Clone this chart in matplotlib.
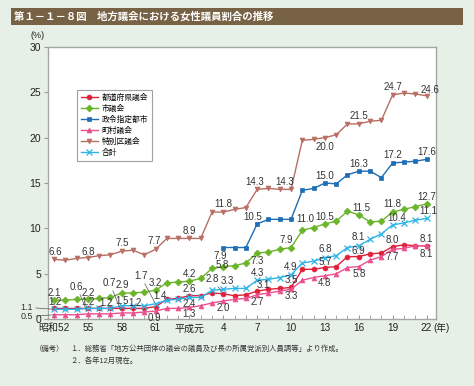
import matplotlib
matplotlib.use('Agg')
import matplotlib.pyplot as plt
import matplotlib.patches as patches

plt.rcParams['font.family'] = ['Liberation Sans', 'Noto Sans CJK JP']

# data (1977 = 昭和52 ... 2010 = 平成22)
years = list(range(1977, 2011))
tick_years = [1977, 1980, 1983, 1986, 1989, 1992, 1995, 1998, 2001, 2004, 2007, 2010]
tick_labels = ['昭和52', '55', '58', '61', '平成元', '4', '7', '10', '13', '16', '19', '22']

pref = [1.2, 1.2, 1.2, 1.2, 1.2, 1.2, 1.2, 1.2, 1.2, 1.4,
        2.2, 2.3, 2.6, 2.6, 2.9, 2.8, 2.6, 2.7, 3.1, 3.3,
        3.4, 3.5, 5.5, 5.5, 5.7, 5.8, 6.9, 6.9, 7.2, 7.3,
        8.0, 8.2, 8.1, 8.1]
city = [2.1, 2.1, 2.2, 2.2, 2.3, 2.4, 2.9, 2.9, 3.0, 3.2,
        4.0, 4.1, 4.2, 4.5, 5.6, 5.8, 5.9, 6.2, 7.3, 7.4,
        7.7, 7.9, 9.8, 10.1, 10.5, 10.8, 11.9, 11.5, 10.7, 10.8,
        11.8, 12.1, 12.4, 12.7]
nan = float('nan')
designated = [nan] * 15 + [7.9, 7.9, 7.9, 10.5, 11.0,
                           11.0, 11.0, 14.2, 14.4, 15.0, 14.9, 15.9, 16.3, 16.3, 15.6,
                           17.2, 17.3, 17.4, 17.6]
town = [0.5, 0.5, 0.5, 0.6, 0.6, 0.6, 0.7, 0.7, 0.8, 0.9,
        1.2, 1.2, 1.3, 1.5, 1.8, 2.0, 2.2, 2.3, 2.7, 2.9,
        3.1, 3.3, 4.3, 4.6, 4.8, 5.0, 5.7, 5.8, 6.5, 6.9,
        7.7, 7.8, 8.1, 8.1]
ward = [6.6, 6.5, 6.7, 6.8, 7.0, 7.1, 7.5, 7.6, 7.1, 7.7,
        8.9, 8.9, 8.9, 8.9, 11.8, 11.8, 12.1, 12.3, 14.3, 14.4,
        14.3, 14.3, 19.7, 19.8, 20.0, 20.3, 21.5, 21.5, 21.8, 21.9,
        24.7, 24.9, 24.8, 24.6]
total = [1.1, 1.1, 1.1, 1.2, 1.2, 1.2, 1.5, 1.5, 1.5, 1.7,
         2.1, 2.2, 2.4, 2.4, 3.2, 3.3, 3.4, 3.4, 4.3, 4.4,
         4.6, 4.9, 6.2, 6.4, 6.8, 7.0, 7.9, 8.1, 8.8, 9.4,
         10.4, 10.6, 10.9, 11.1]

series = {
    'pref': ('都道府県議会', pref, '#e0203a', 'o'),
    'city': ('市議会', city, '#6ab42a', 'D'),
    'designated': ('政令指定都市', designated, '#1f6db4', 's'),
    'town': ('町村議会', town, '#ea4f8e', '^'),
    'ward': ('特別区議会', ward, '#b86e62', 'v'),
    'total': ('合計', total, '#30b4e6', 'x'),
}

# label placements: (series, year, dx px, dy px, leader line)
labels = [
    ('ward', 1977, 1, 7, False), ('ward', 1980, 0, 6, False), ('ward', 1983, 0, 8, False),
    ('ward', 1986, -1, 8, False), ('ward', 1989, 0, 7, False), ('ward', 1992, 0, 8, False),
    ('ward', 1995, -2, 7, False), ('ward', 1998, -6, 7, False), ('ward', 2001, 0, -9, False),
    ('ward', 2004, 0, 8, False), ('ward', 2007, 0, 8, False), ('ward', 2010, 3, 6, False),
    ('designated', 1992, -3, -8, False), ('designated', 1995, -4, 7, False),
    ('designated', 1998, 14, 0, False), ('designated', 2001, 0, 7, False),
    ('designated', 2004, 0, 7, False), ('designated', 2007, 0, 8, False),
    ('designated', 2010, 0, 7, False),
    ('city', 1977, 0, 7, False), ('city', 1980, 0, 6, False), ('city', 1983, 1, 8, False),
    ('city', 1986, 0, 7, False), ('city', 1989, 0, 7, False), ('city', 1992, -1, 2, False),
    ('city', 1995, 0, -8, False), ('city', 1998, -5, 8, False), ('city', 2001, 0, 7, False),
    ('city', 2004, 3, 7, False), ('city', 2007, 0, 8, False), ('city', 2010, 0, 7, False),
    ('total', 1980, 0, 6, False), ('total', 1983, 0, 5, False), ('total', 1986, -15, 28, True),
    ('total', 1989, 0, -7, False), ('total', 1992, 4, 8, False), ('total', 1995, 0, 7, False),
    ('total', 1998, 0, 8, False), ('total', 2001, 0, 9, False), ('total', 2004, 0, 9, False),
    ('total', 2007, 4, 7, False), ('total', 2010, 2, 7, False),
    ('pref', 1977, 1, 6, False), ('pref', 1980, 18, 5, False), ('pref', 1983, 13, 5, False),
    ('pref', 1986, 4, 11, False), ('pref', 1989, 0, 7, False), ('pref', 1992, -11, 15, True),
    ('pref', 1995, 6, 6, False), ('pref', 1998, 0, 7, False), ('pref', 2001, 0, 6, False),
    ('pref', 2004, 0, 6, False), ('pref', 2007, 0, 7, False), ('pref', 2010, 0, 7, False),
    ('town', 1980, -11, 27, True), ('town', 1983, -12, 30, True), ('town', 1986, -1, -7, False),
    ('town', 1989, 0, -7, False), ('town', 1992, 0, -7, False), ('town', 1995, 0, -7, False),
    ('town', 1998, 0, -7, False), ('town', 2001, 0, -7, False), ('town', 2004, 0, -7, False),
    ('town', 2007, 0, -8, False), ('town', 2010, 0, -8, False),
]

bg = '#e7f0e7'
fig = plt.figure(figsize=(4.74, 3.86), dpi=100, facecolor=bg)
W, H = 474, 386

# title bar
fig.patches.append(patches.Rectangle((11 / W, 1 - 25 / H), 452 / W, 17 / H,
                                     transform=fig.transFigure, facecolor='#786246',
                                     edgecolor='none'))
fig.text(14 / W, 1 - 16.5 / H, '第１－１－８図　地方議会における女性議員割合の推移',
         color='white', fontsize=7.5, fontweight='bold', va='center', ha='left')

ax = fig.add_axes([48 / W, 1 - 319.3 / H, 388 / W, 272.6 / H])
ax.set_facecolor('white')

for key in ['pref', 'city', 'designated', 'town', 'ward', 'total']:
    name, vals, color, marker = series[key]
    ax.plot(years, vals, color=color, marker=marker, markersize=3.5 if marker != 'x' else 4.5,
            markeredgewidth=0.9 if marker == 'x' else 0.5, linewidth=1.0, label=name)

for key, yr, dx, dy, leader in labels:
    vals = series[key][1]
    v = vals[years.index(yr)]
    kw = {}
    if leader:
        kw['arrowprops'] = dict(arrowstyle='-', color='#555555', lw=0.5, shrinkA=0, shrinkB=2)
    ax.annotate('%.1f' % v, xy=(yr, v), xytext=(dx, dy), textcoords='offset pixels',
                ha='center', va='center', fontsize=7, color='#333333', **kw)

# starting values written outside the axis
for vals, dy in [(total, 2), (town, -2)]:
    ax.annotate('%.1f' % vals[0], xy=(years[0], vals[0]), xytext=(-21, dy),
                textcoords='offset pixels', ha='right', va='center', fontsize=6.5,
                color='#333333', annotation_clip=False,
                arrowprops=dict(arrowstyle='-', color='#555555', lw=0.5, shrinkA=0, shrinkB=0))

ax.set_xlim(1977 - 0.53, 2010 + 0.84)
ax.set_ylim(0, 30)
ax.set_xticks(tick_years)
ax.set_xticklabels(tick_labels)
ax.set_xticks(years, minor=True)
ax.set_yticks(range(0, 31, 5))
ax.tick_params(axis='x', which='both', direction='in', length=3, pad=3, labelsize=7.2,
               colors='#999999', labelcolor='#222222')
ax.tick_params(axis='y', direction='out', length=3, pad=2, labelsize=7.5,
               colors='#999999', labelcolor='#222222')
for sp in ax.spines.values():
    sp.set_color('#a0a8a0')
    sp.set_linewidth(1.0)

ax.annotate('(年)', xy=(2010, 0), xytext=(7, -9), textcoords='offset pixels',
            ha='left', va='center', fontsize=7, color='#222222', annotation_clip=False)
fig.text(38 / W, 1 - 36 / H, '(%)', fontsize=6.5, ha='center', va='center', color='#222222')

leg = ax.legend(loc='upper left', bbox_to_anchor=(0.075, 0.84), fontsize=5.6,
                frameon=True, fancybox=False, edgecolor='#888888', borderpad=0.45,
                labelspacing=0.38, handlelength=2.2, handletextpad=0.5, borderaxespad=0)
leg.get_frame().set_linewidth(0.8)

fig.text(35 / W, 1 - 349 / H, '（備考）', fontsize=5.3, ha='left', va='center', color='#333333')
fig.text(70 / W, 1 - 349 / H, '１．総務省「地方公共団体の議会の議員及び長の所属党派別人員調等」より作成。',
         fontsize=5.3, ha='left', va='center', color='#333333')
fig.text(70 / W, 1 - 361 / H, '２．各年12月現在。', fontsize=5.3, ha='left', va='center',
         color='#333333')

fig.savefig('out.png', dpi=100, facecolor=bg)
